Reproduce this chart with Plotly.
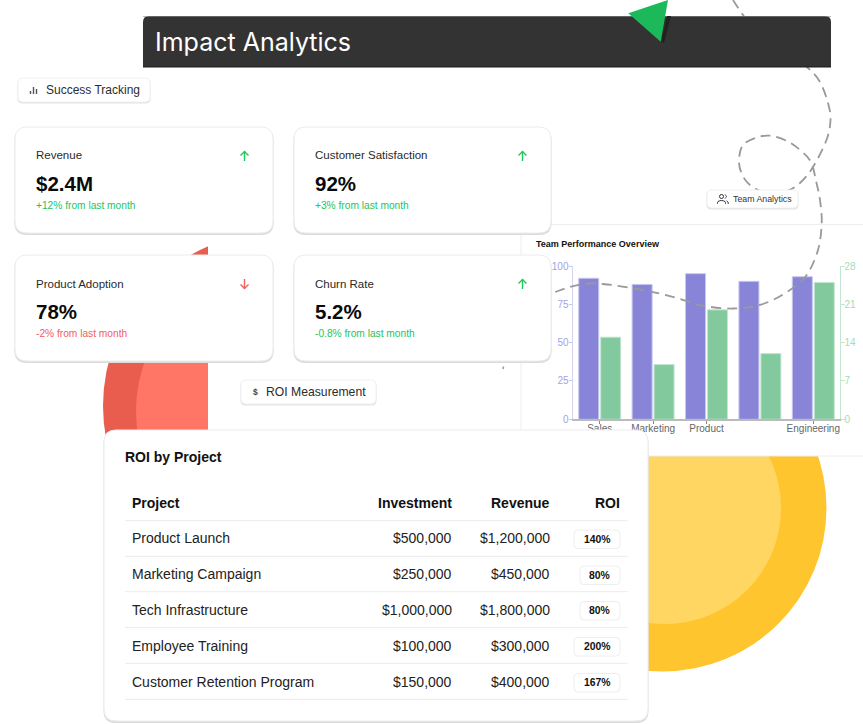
import plotly.graph_objects as go

W = 863
H = 724

# KPI cards
kpi_titles = ["Revenue", "Customer Satisfaction", "Product Adoption", "Churn Rate"]
kpi_values = ["$2.4M", "92%", "78%", "5.2%"]
kpi_changes = ["+12% from last month", "+3% from last month", "-2% from last month", "-0.8% from last month"]
kpi_up = [True, True, False, True]
kpi_good = [True, True, False, True]

# Team chart
teams = ["Sales", "Marketing", "Product", "Support", "Engineering"]
team_ticks = ["Sales", "Marketing", "Product", "Engineering"]
performance = [92, 88, 95, 90, 93]
team_size = [15, 10, 20, 12, 25]
perf_ticks = [0, 25, 50, 75, 100]
size_ticks = [0, 7, 14, 21, 28]

# ROI table
projects = ["Product Launch", "Marketing Campaign", "Tech Infrastructure", "Employee Training", "Customer Retention Program"]
investment = [500000, 250000, 1000000, 100000, 150000]
revenue = [1200000, 450000, 1800000, 300000, 400000]
roi = [140, 80, 80, 200, 167]

# dashed decoration, in page pixels
dash_top = [(733, 0), (743, 15), (760, 38), (790, 55), (808, 68), (820, 82), (828, 103), (830.5, 120), (826.5, 140),
            (813, 167), (800, 183), (787, 191), (770, 194.5), (750, 185), (741.5, 173), (739, 160), (743, 145),
            (757, 137.5), (770, 135.7), (787, 141), (800, 150), (811, 162), (816.5, 183), (820, 200), (821.7, 223),
            (818, 250), (806.7, 275), (790, 290), (763, 304), (733, 308.5), (701.7, 305.5), (676.7, 298),
            (643, 290), (603, 284), (580, 284.5), (558, 291), (535, 300)]

GREEN = "#22c55e"
RED = "#ef6060"
FONT = "Liberation Sans"


def xp(x):
    return x / W


def yp(y):
    return 1 - y / H


def rrect(x0, y0, x1, y1, r, r_bottom=None):
    rb = r if r_bottom is None else r_bottom
    return (f"M {xp(x0 + r)} {yp(y0)} L {xp(x1 - r)} {yp(y0)} Q {xp(x1)} {yp(y0)} {xp(x1)} {yp(y0 + r)} "
            f"L {xp(x1)} {yp(y1 - rb)} Q {xp(x1)} {yp(y1)} {xp(x1 - rb)} {yp(y1)} "
            f"L {xp(x0 + rb)} {yp(y1)} Q {xp(x0)} {yp(y1)} {xp(x0)} {yp(y1 - rb)} "
            f"L {xp(x0)} {yp(y0 + r)} Q {xp(x0)} {yp(y0)} {xp(x0 + r)} {yp(y0)} Z")


def smooth(pts):
    # catmull-rom through the points
    d = f"M {xp(pts[0][0])} {yp(pts[0][1])}"
    for i in range(len(pts) - 1):
        p0 = pts[max(i - 1, 0)]
        p1 = pts[i]
        p2 = pts[i + 1]
        p3 = pts[min(i + 2, len(pts) - 1)]
        c1 = (p1[0] + (p2[0] - p0[0]) / 6, p1[1] + (p2[1] - p0[1]) / 6)
        c2 = (p2[0] - (p3[0] - p1[0]) / 6, p2[1] - (p3[1] - p1[1]) / 6)
        d += f" C {xp(c1[0])} {yp(c1[1])} {xp(c2[0])} {yp(c2[1])} {xp(p2[0])} {yp(p2[1])}"
    return d


def poly(pts, close=False):
    d = "M " + " L ".join(f"{xp(a)} {yp(b)}" for a, b in pts)
    return d + (" Z" if close else "")


shapes = []


def add_path(path, fill=None, line=None, width=1, layer="above", dash=None):
    ln = dict(color=line, width=width) if line else dict(width=0)
    if dash:
        ln["dash"] = dash
    sh = dict(type="path", xref="paper", yref="paper", path=path, layer=layer, line=ln)
    if fill:
        sh["fillcolor"] = fill
    shapes.append(sh)


def add_circle(x0, y0, x1, y1, fill=None, line=None, width=1, layer="above"):
    shapes.append(dict(type="circle", xref="paper", yref="paper", x0=xp(x0), x1=xp(x1), y0=yp(y0), y1=yp(y1),
                       layer=layer, fillcolor=fill if fill else "rgba(0,0,0,0)",
                       line=dict(color=line, width=width) if line else dict(width=0)))


def add_card(x0, y0, x1, y1, r):
    add_path(rrect(x0 - 0.5, y0 + 1, x1 + 0.5, y1 + 2, r), fill="#dcdcdc")
    add_path(rrect(x0, y0, x1, y1, r), fill="#ffffff", line="#ececec", width=1)


annotations = []


def text(x, y, s, size, color="#222222", bold=False, anchor="left", family=FONT):
    annotations.append(dict(xref="paper", yref="paper", x=xp(x), y=yp(y), text=f"<b>{s}</b>" if bold else s,
                            showarrow=False, xanchor=anchor, yanchor="middle",
                            font=dict(size=size, color=color, family=family), borderpad=0, borderwidth=0))


# big circles behind everything
add_circle(103, 232, 451, 580, fill="#e85d4e", layer="below")
add_circle(136, 266, 426, 556, fill="#ff7566", layer="below")
add_circle(499.5, 344.5, 826.5, 671.5, fill="#ffc52e", layer="below")
add_circle(549, 392, 781, 624, fill="#ffd662", layer="below")

# white area that cuts the red circle, then the chart panel
add_path(poly([(208, 225), (521, 225), (521, 440), (208, 440)], True), fill="#ffffff", layer="below")
add_path(poly([(521, 224.5), (880, 224.5), (880, 456), (521, 456)], True), fill="#ffffff", line="#eeeeee", layer="below")

# dashes over the chart, under the cards
add_path(smooth(dash_top), line="#999999", width=1.8, dash="10px,6px")
add_path(poly([(503.5, 366.5), (503, 369)]), line="#999999", width=1.5)
add_path(poly([(645, 434), (648, 439)]), line="#dddddd", width=1)

# header
add_path(rrect(143, 16, 831, 67, 6, 0), fill="#333333")
add_path(poly([(143, 67), (831, 67)]), line="#1c1c1c", width=1.2)
add_path(poly([(143, 16.5), (831, 16.5)]), line="#8a8a8a", width=0.6)
add_path(poly([(661, 42), (667, 16), (671, 16), (664, 43)], True), fill="#222222")
add_path(poly([(628.3, 13.3), (668, 0), (660.7, 41.7)], True), fill="#1cb95a")

# section pills
for x0, y0, x1, y1 in [(18, 78, 150, 102), (241, 380, 376, 404), (707, 190, 798, 208)]:
    add_path(rrect(x0 - 0.5, y0 + 0.5, x1 + 0.5, y1 + 1.5, 5), fill="#e2e2e2")
    add_path(rrect(x0, y0, x1, y1, 5), fill="#ffffff", line="#f0f0f0", width=1)
text(46, 89.5, "Success Tracking", 12, "#2c2c2c")
for bx, by in [(30.5, 91), (33.5, 87), (36.5, 89)]:
    add_path(poly([(bx, 94), (bx, by)]), line="#555555", width=1.4)
text(255.5, 392, "$", 8.5, "#444444", bold=True, anchor="center")
text(266, 392, "ROI Measurement", 12.2, "#2c2c2c")
text(733, 199, "Team Analytics", 8.8, "#333333")
add_circle(719.5, 194.5, 723.5, 198.5, line="#333333", width=1)
add_path(smooth([(717.5, 204), (718, 201.5), (721.5, 200.5), (725, 201.5), (725.5, 204)]), line="#333333", width=1)
add_path(smooth([(725, 194.6), (726.5, 196.5), (725, 198.4)]), line="#333333", width=1)
add_path(smooth([(726.5, 200.8), (728, 202), (728.3, 204)]), line="#333333", width=1)

# KPI cards
card_boxes = [(15, 127, 273, 233), (294, 127, 551, 233), (15, 255, 273, 361), (294, 255, 551, 361)]
for i, (x0, y0, x1, y1) in enumerate(card_boxes):
    add_card(x0, y0, x1, y1, 12)
    col = GREEN if kpi_good[i] else RED
    text(x0 + 21, y0 + 28.5, kpi_titles[i], 11.5, "#2a2a2a")
    text(x0 + 21, y0 + 56.8, kpi_values[i], 20.5, "#0a0a0a", bold=True)
    text(x0 + 21, y0 + 78.5, kpi_changes[i], 10.2, col)
    ax = x1 - 28.5
    ay = y0 + 29
    if kpi_up[i]:
        add_path(poly([(ax, ay + 5), (ax, ay - 4.5)]), line=col, width=1.4)
        add_path(poly([(ax - 4, ay - 0.5), (ax, ay - 4.5), (ax + 4, ay - 0.5)]), line=col, width=1.4)
    else:
        add_path(poly([(ax, ay - 5), (ax, ay + 4.5)]), line=col, width=1.4)
        add_path(poly([(ax - 4, ay + 0.5), (ax, ay + 4.5), (ax + 4, ay + 0.5)]), line=col, width=1.4)

# chart title
text(536, 244, "Team Performance Overview", 9, "#111111", bold=True)

# ROI table card
add_card(104, 430, 648, 721, 12)
text(125, 457, "ROI by Project", 14, "#111111", bold=True)
text(132, 502.5, "Project", 14, "#111111", bold=True)
text(451.5, 502.5, "Investment", 14, "#111111", bold=True, anchor="right")
text(549.5, 502.5, "Revenue", 14, "#111111", bold=True, anchor="right")
text(619.5, 502.5, "ROI", 14, "#111111", bold=True, anchor="right")
line_ys = [520.7, 556.3, 591.7, 627.5, 663.3, 699.3]
for ly in line_ys:
    add_path(poly([(125, ly), (627.5, ly)]), line="#ececec", width=1)
row_ys = [538, 574, 609.5, 645.5, 681.5]
for i, ry in enumerate(row_ys):
    text(132, ry, projects[i], 14, "#222222")
    text(451.5, ry, f"${investment[i]:,}", 14, "#222222", anchor="right")
    text(549.5, ry, f"${revenue[i]:,}", 14, "#222222", anchor="right")
    wide = roi[i] >= 100
    bw = 46 if wide else 40
    add_path(rrect(620 - bw, ry + 1.3 - 9.3, 620, ry + 1.3 + 9.3, 4), fill="#ffffff", line="#eeeeee", width=1)
    text(597 if wide else 599.5, ry + 1.3, f"{roi[i]}%", 10.4, "#111111", bold=True, anchor="center")

text(155, 42, "Impact Analytics", 25, "#ffffff", family="Inter")

fig = go.Figure()
fig.add_trace(go.Bar(x=teams, y=performance, name="Performance", marker=dict(color="#8884d8", line=dict(color="#c9c7ee", width=1)),
                     width=0.375, offset=-0.393, yaxis="y", hoverinfo="skip"))
fig.add_trace(go.Bar(x=teams, y=team_size, name="Team Size", marker=dict(color="#82ca9d", line=dict(color="#c3e6d1", width=1)),
                     width=0.375, offset=0.018, yaxis="y2", hoverinfo="skip"))

fig.update_layout(
    width=W, height=H, margin=dict(l=0, r=0, t=0, b=0), showlegend=False,
    paper_bgcolor="#ffffff", plot_bgcolor="rgba(0,0,0,0)",
    font=dict(family=FONT),
    shapes=shapes, annotations=annotations,
    xaxis=dict(domain=[xp(573), xp(840)], anchor="y", tickmode="array", tickvals=team_ticks, ticktext=team_ticks,
               categoryorder="array", categoryarray=teams,
               automargin=False, showgrid=False, zeroline=False, showline=True, linecolor="#bbbbbb", linewidth=1.5,
               ticks="outside", ticklen=3, tickcolor="#888888", tickwidth=1, tickangle=0, ticklabelstandoff=-4,
               tickfont=dict(size=10, color="#666666", family=FONT)),
    yaxis=dict(domain=[yp(419.3), yp(266)], range=[0, 100], tickvals=perf_ticks, automargin=False, showgrid=False,
               zeroline=False, showline=True, linecolor="#d4d3f1", linewidth=1, ticks="outside", ticklen=3.5,
               ticklabelstandoff=-2, tickcolor="#c9c7ee", tickfont=dict(size=10, color="#a5a2e4", family=FONT), anchor="x"),
    yaxis2=dict(range=[0, 28], tickvals=size_ticks, overlaying="y", side="right", anchor="x", automargin=False,
                showgrid=False, zeroline=False, showline=True, linecolor="#c3e6d1", linewidth=1, ticks="outside",
                ticklen=3.5, ticklabelstandoff=-2, tickcolor="#c3e6d1", tickfont=dict(size=10, color="#a6dcbb", family=FONT)),
)

fig.write_html("out.html", config=dict(displayModeBar=False),
               post_script="document.body.style.margin='0';document.body.style.overflow='hidden';")
